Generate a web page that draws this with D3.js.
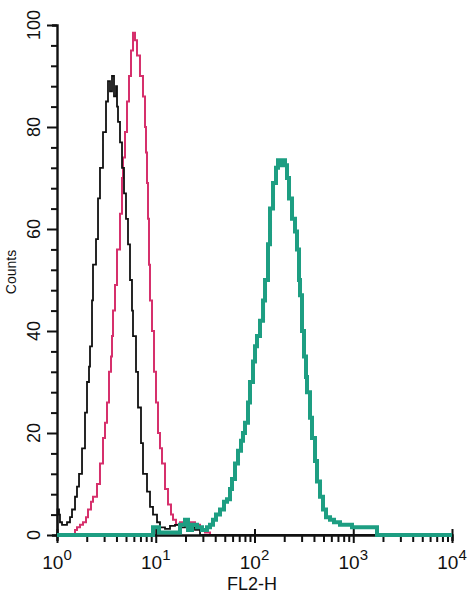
<!DOCTYPE html>
<html>
<head>
<meta charset="utf-8">
<script src="https://cdn.jsdelivr.net/npm/d3@7"></script>
<style>
  html, body { margin: 0; padding: 0; background: #fff; }
  svg { display: block; font-family: "Liberation Sans", Arial, sans-serif; }
</style>
</head>
<body>
<svg id="chart" width="474" height="594"></svg>
<script>
// ---- Data (FL2-H fluorescence, Counts) ----
const blackX = [1, 1.012, 1.048, 1.072, 1.124, 1.205, 1.263, 1.354, 1.419, 1.522, 1.594, 1.671, 1.792, 1.921, 2.013, 2.109, 2.159, 2.262, 2.315, 2.483, 2.602, 2.725, 2.923, 3.135, 3.284, 3.441, 3.606, 3.778, 3.958, 4.052, 4.147, 4.345, 4.553, 4.770, 4.997, 5.236, 5.486, 5.747, 5.883, 6.310, 6.611, 7.089, 7.428, 8.155, 8.745, 9.380, 10.30, 11.04, 12.41, 13.94, 15.66, 17.61, 19.78, 22.23, 24.98, 28.06, 10000];
const blackY = [0, 5, 4, 2.5, 2, 2, 2.5, 3.5, 5, 7.5, 9.5, 12, 17, 24, 30, 33, 37, 46, 53, 58, 66, 72, 79, 85, 89, 87, 90, 86, 88, 84, 81, 77, 72, 67, 62, 57, 50, 44, 39, 32, 25, 18, 12, 8.5, 5.5, 4, 2.5, 1.5, 1.2, 1.8, 2, 1.5, 2, 1.5, 1, 0, 0];

const pinkX = [1, 1.419, 1.522, 1.594, 1.710, 1.834, 1.966, 2.060, 2.210, 2.315, 2.541, 2.725, 2.923, 3.063, 3.209, 3.362, 3.523, 3.606, 3.691, 3.867, 4.052, 4.345, 4.553, 4.660, 4.883, 5.116, 5.359, 5.615, 5.883, 6.165, 6.458, 6.924, 7.428, 7.784, 7.967, 8.155, 8.347, 8.543, 8.745, 9.162, 9.601, 10.06, 10.54, 11.04, 11.57, 12.41, 13.31, 14.27, 14.95, 16.04, 17.61, 19.78, 22.23, 24.98, 28.06, 31.53, 35.43, 10000];
const pinkY = [0, 0, 1, 1.5, 2, 2.5, 3.5, 5, 6.5, 7.5, 10, 14, 19, 22, 26, 32, 35, 39, 44, 49, 56, 63, 70, 74, 79, 85, 90, 95, 98.5, 97, 94, 90, 86, 80, 75, 69, 62, 53, 46, 40, 32, 26, 20, 17, 14, 9, 6, 4, 3, 2, 2.5, 2, 2.5, 2, 1, 0.5, 0, 0];

const tealX = [1, 8.745, 9.380, 10.06, 10.79, 15.66, 17.61, 19.78, 21.22, 23.28, 26.17, 29.40, 33.04, 35.43, 37.98, 40.74, 44.74, 49.11, 52.67, 56.48, 59.18, 63.47, 68.08, 73.02, 76.46, 80.12, 85.93, 90.03, 96.56, 101.2, 106.0, 113.7, 122.0, 127.8, 137.0, 143.6, 154.0, 165.1, 173.0, 181.3, 189.9, 203.7, 213.4, 223.6, 239.8, 257.2, 269.4, 282.3, 289.0, 302.7, 317.2, 332.3, 340.2, 364.8, 382.2, 410.0, 429.6, 460.7, 494.0, 529.8, 581.9, 638.6, 734.2, 864.5, 971.2, 1171, 1411, 1585, 1740, 10000];
const tealY = [0, 0, 1.5, 1.5, 0.5, 0.5, 2, 3, 1, 2, 1.5, 1, 1.5, 2, 3, 4, 5, 6.5, 7, 9, 11, 14, 16.5, 18.5, 20, 22, 26, 30, 34, 37, 39, 42, 46, 50, 57, 64, 69, 72, 73.5, 72.5, 73.5, 72.5, 70, 66, 62, 59.5, 56, 50, 47, 40, 35, 31, 28, 23, 19, 14.5, 10.5, 7.5, 5, 3.5, 3, 2.5, 2, 2, 1.5, 1.5, 1.5, 1.5, 0, 0];

const yTickValues = [0, 20, 40, 60, 80, 100];
const xTickExponents = ["0", "1", "2", "3", "4"];
const xTitle = "FL2-H";
const yTitle = "Counts";

// ---- Layout ----
const svg = d3.select("#chart");
const x = d3.scaleLog().domain([1, 10000]).range([57, 452]);
const y = d3.scaleLinear().domain([0, 100]).range([535, 25]);

// ---- Axes ----
const yAxis = d3.axisLeft(y).tickValues(d3.range(0, 101, 4)).tickSize(5).tickFormat("");
const gy = svg.append("g").attr("transform", `translate(${x(1)},0)`).call(yAxis);
gy.select(".domain").attr("stroke", "#111").attr("stroke-width", 2.4);
gy.selectAll(".tick line").attr("stroke", "#111").attr("stroke-width", 2)
  .attr("x2", d => yTickValues.includes(d) ? -10 : -6);

// y tick labels (rotated)
svg.append("g").selectAll("text").data(yTickValues).join("text")
  .attr("transform", d => `translate(40,${y(d)}) rotate(-90)`)
  .attr("text-anchor", "middle")
  .attr("font-size", 18)
  .attr("fill", "#111")
  .text(d => d);

// x axis ticks (log)
const minor = [];
for (let e = 0; e < 4; e++) for (let m = 2; m <= 9; m++) minor.push(m * Math.pow(10, e));
const majors = xTickExponents.map(e => Math.pow(10, +e));
const xAxis = d3.axisBottom(x).tickValues(majors.concat(minor)).tickSize(6).tickFormat("");
const gx = svg.append("g").attr("transform", `translate(0,${y(0)})`).call(xAxis);
gx.select(".domain").attr("stroke", "#111").attr("stroke-width", 2.4);
gx.selectAll(".tick line").attr("stroke", "#111").attr("stroke-width", 2)
  .attr("y1", d => majors.includes(d) ? -6 : 0)
  .attr("y2", d => majors.includes(d) ? 8 : 7);

// x tick labels 10^n
const xl = svg.append("g").selectAll("text").data(xTickExponents).join("text")
  .attr("x", d => x(Math.pow(10, +d)))
  .attr("y", 569)
  .attr("text-anchor", "middle")
  .attr("font-size", 19)
  .attr("fill", "#111");
xl.append("tspan").text("10");
xl.append("tspan").attr("dy", -9).attr("font-size", 15).text(d => d);

// axis titles
svg.append("text").attr("x", 252).attr("y", 590).attr("text-anchor", "middle")
  .attr("font-size", 18).attr("fill", "#111").text(xTitle);
svg.append("text").attr("transform", "translate(16,272) rotate(-90)")
  .attr("text-anchor", "middle").attr("font-size", 14).attr("fill", "#111").text(yTitle);

// ---- Curves ----
const line = d3.line().x(d => x(d[0])).y(d => y(d[1])).curve(d3.curveStepAfter);
const series = [
  { xs: pinkX, ys: pinkY, color: "#d6306c", w: 2 },
  { xs: blackX, ys: blackY, color: "#111111", w: 1.8 },
  { xs: tealX, ys: tealY, color: "#1d9e82", w: 4 }
];
svg.append("g").selectAll("path").data(series).join("path")
  .attr("d", s => line(s.xs.map((v, i) => [v, s.ys[i]])))
  .attr("fill", "none")
  .attr("stroke", s => s.color)
  .attr("stroke-width", s => s.w)
  .attr("stroke-linejoin", "miter");
</script>
</body>
</html>
